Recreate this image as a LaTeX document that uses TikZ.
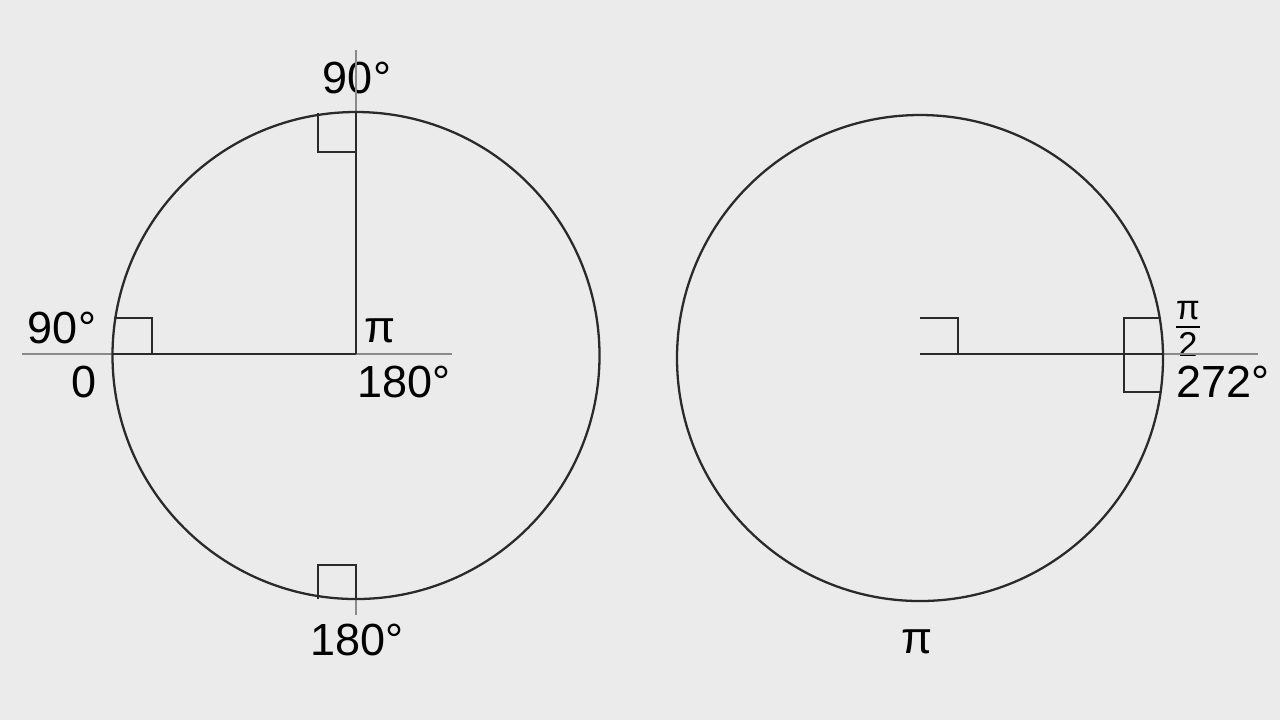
\documentclass[tikz,border=0pt]{standalone}
\usepackage{amsmath}
\usepackage{fontspec}
\setmainfont{Liberation Sans}
\definecolor{bgcol}{HTML}{EBEBEB}
\definecolor{inkcol}{HTML}{2A2A2A}
\definecolor{guidecol}{HTML}{8A8A8A}

\begin{document}
\begin{tikzpicture}[x=0.01cm,y=-0.01cm]
                    \fill[bgcol] (0,0) rectangle (1280,720);
                    \useasboundingbox (0,0) rectangle (1280,720);
                    \tikzset{ink/.style={draw=inkcol,line width=0.65pt},
                             guide/.style={draw=guidecol,line width=0.3pt},
                             lbl/.style={inner sep=0pt,text=black,font=\fontsize{12.8}{15}\selectfont}}
                    % points of the left circle
                    \coordinate (M) at (356,355.5);
                    \coordinate (O) at (356,354);
                    \coordinate (T) at (356,112);
                    \coordinate (Ttop) at (356,50);
                    \coordinate (L) at (113,354);
                    \coordinate (Lend) at (22,354);
                    \coordinate (Rend) at (452,354);
                    \coordinate (B) at (356,599);
                    \coordinate (Bend) at (356,615);
                    % points of the right circle
                    \coordinate (P) at (920,358);
                    \coordinate (Q) at (920,354);
                    \coordinate (E) at (1162,354);
                    \coordinate (Eend) at (1258,354);
                    \begin{scope}[every node/.style={lbl}]
                        \node (A90) at (357,78) {90°};
                        \node (L90) at (62,328) {90°};
                        \node (Lzero) at (84,382) {0};
                        \node (Lpi) at (380,331) {π};
                        \node (R180) at (404,382) {180°};
                        \node (B180) at (357,640) {180°};
                        \node[font=\fontsize{14}{16}\selectfont] (Half) at (1188,329) {$\frac{\text{π}}{\text{2}}$};
                        \node (D272) at (1223,382) {272°};
                        \node (Bpi) at (917,642) {π};
                    \end{scope}
                    \begin{scope}[every path/.style={guide}]
                        \draw (Ttop) -- (T);
                        \draw (Lend) -- (L);
                        \draw (O) -- (Rend);
                        \draw (B) -- (Bend);
                        \draw (E) -- (Eend);
                    \end{scope}
                    \begin{scope}[every path/.style={ink}]
                        \draw (M) circle (243.5);
                        \draw (P) circle (243);
                        \draw (T) -- (O);
                        \draw (L) -- (O);
                        \draw (Q) -- (E);
                        % right angle marks
                        \draw (318,113) |- (356,152);
                        \draw (114,318) -| (152,354);
                        \draw (318,599) |- (356,565) -- (B);
                        \draw (920,318) -| (958,354);
                        \draw (1160,318) -| (1124,392) -- (1160,392);
                    \end{scope}
                \end{tikzpicture}
\end{document}
